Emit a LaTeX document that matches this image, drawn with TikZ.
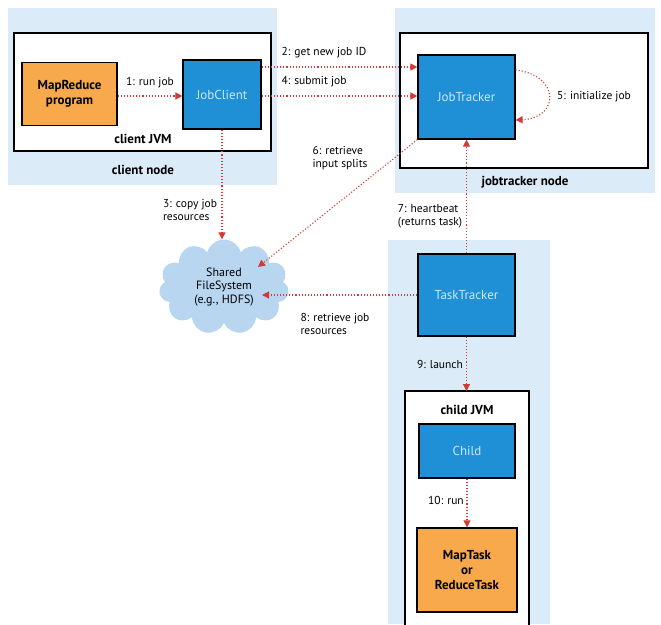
\documentclass[tikz,border=0pt]{standalone}
\usepackage{fontspec}
\setmainfont{PT Sans}
\usetikzlibrary{shapes.symbols,arrows.meta}
\definecolor{panel}{HTML}{DCEBF8}
\definecolor{cloudc}{HTML}{B8D6F0}
\definecolor{bluebox}{HTML}{1F8FD6}
\definecolor{bluetxt}{HTML}{CFE7F8}
\definecolor{orangebox}{HTML}{F7A94B}
\definecolor{arr}{HTML}{D23A35}
\begin{document}
\begin{tikzpicture}[x=1pt,y=-1pt,
  panel/.style={fill=panel,draw=none},
  jvm/.style={fill=white,draw=black,line width=1.4pt},
  bbox/.style={fill=bluebox,draw=black,line width=1.2pt,text=bluetxt,font=\fontsize{13}{14}\selectfont},
  obox/.style={fill=orangebox,draw=black,line width=1.2pt,font=\bfseries\fontsize{13}{15}\selectfont,align=center},
  conn/.style={draw=arr,line width=1.1pt,dotted,-{Triangle[length=7pt,width=7pt]}},
  lbl/.style={font=\fontsize{11.5}{12.5}\selectfont,align=left},
  ttl/.style={font=\bfseries\fontsize{13}{14}\selectfont}]
\useasboundingbox (0,0) rectangle (661,624);
% panels
\fill[panel] (8,8) rectangle (277,185);
\fill[panel] (395,8) rectangle (655,193);
\fill[panel] (388,240) rectangle (550,624);
\draw[jvm] (14,33) rectangle (271,151);
\draw[jvm] (400,33) rectangle (648,168);
\draw[jvm] (405,391) rectangle (529,630);
\node[ttl] (cjvm) at (143,139) {client JVM};
\node[ttl] (cnode) at (143,170) {client node};
\node[ttl] (jtnode) at (525,182) {jobtracker node};
\node[ttl] (chjvm) at (467,410) {child JVM};
% boxes
\node[obox,minimum width=95pt,minimum height=63pt] (mr) at (69.5,94) {MapReduce\\program};
\node[bbox,minimum width=78pt,minimum height=69pt] (jc) at (222,94.5) {JobClient};
\node[bbox,minimum width=97pt,minimum height=84pt] (jt) at (466.5,97) {JobTracker};
\node[bbox,minimum width=97pt,minimum height=82pt] (tt) at (466.5,295) {TaskTracker};
\node[bbox,minimum width=96pt,minimum height=54pt] (ch) at (467,451) {Child};
\node[obox,minimum width=100pt,minimum height=84pt] (mt) at (467,570) {MapTask\\or\\ReduceTask};
\node[cloud,cloud puffs=11,aspect=1.4,fill=cloudc,draw=none,minimum width=130pt,minimum height=95pt,align=center,font=\fontsize{12}{13.5}\selectfont] (fs) at (224,287) {Shared\\FileSystem\\(e.g., HDFS)};
% connectors
\draw[conn] (mr.east |- 0,96) -- (jc.west |- 0,96);
\node[lbl] (l1) at (150,83) {1: run job};
\draw[conn] (jc.east |- 0,67) -- (jt.west |- 0,67);
\node[lbl] (l2) at (324,53) {2: get new job ID};
\draw[conn] (jc.east |- 0,96) -- (jt.west |- 0,96);
\node[lbl] (l4) at (314,82) {4: submit job};
\draw[conn] (jc.south) -- (fs.north -| jc.south);
\node[lbl] (l3) at (190,210) {3: copy job\\resources};
\draw[conn] (jt.east |- 0,70) .. controls (560,75) and (560,118) .. (jt.east |- 0,120);
\node[lbl] (l5) at (594,97) {5: initialize job};
\draw[conn] (jt.south west) -- (258,267);
\node[lbl] (l6) at (340,158) {6: retrieve\\input splits};
\draw[conn] (tt.north) -- (jt.south);
\node[lbl] (l7) at (430,216) {7: heartbeat\\(returns task)};
\draw[conn] (tt.west) -- (262,295);
\node[lbl] (l8) at (335,324) {8: retrieve job\\resources};
\draw[conn] (tt.south) -- (tt.south |- 0,391);
\node[lbl] (l9) at (440,364) {9: launch};
\draw[conn] (ch.south) -- (mt.north);
\node[lbl] (l10) at (446,500) {10: run};
\end{tikzpicture}
\end{document}
